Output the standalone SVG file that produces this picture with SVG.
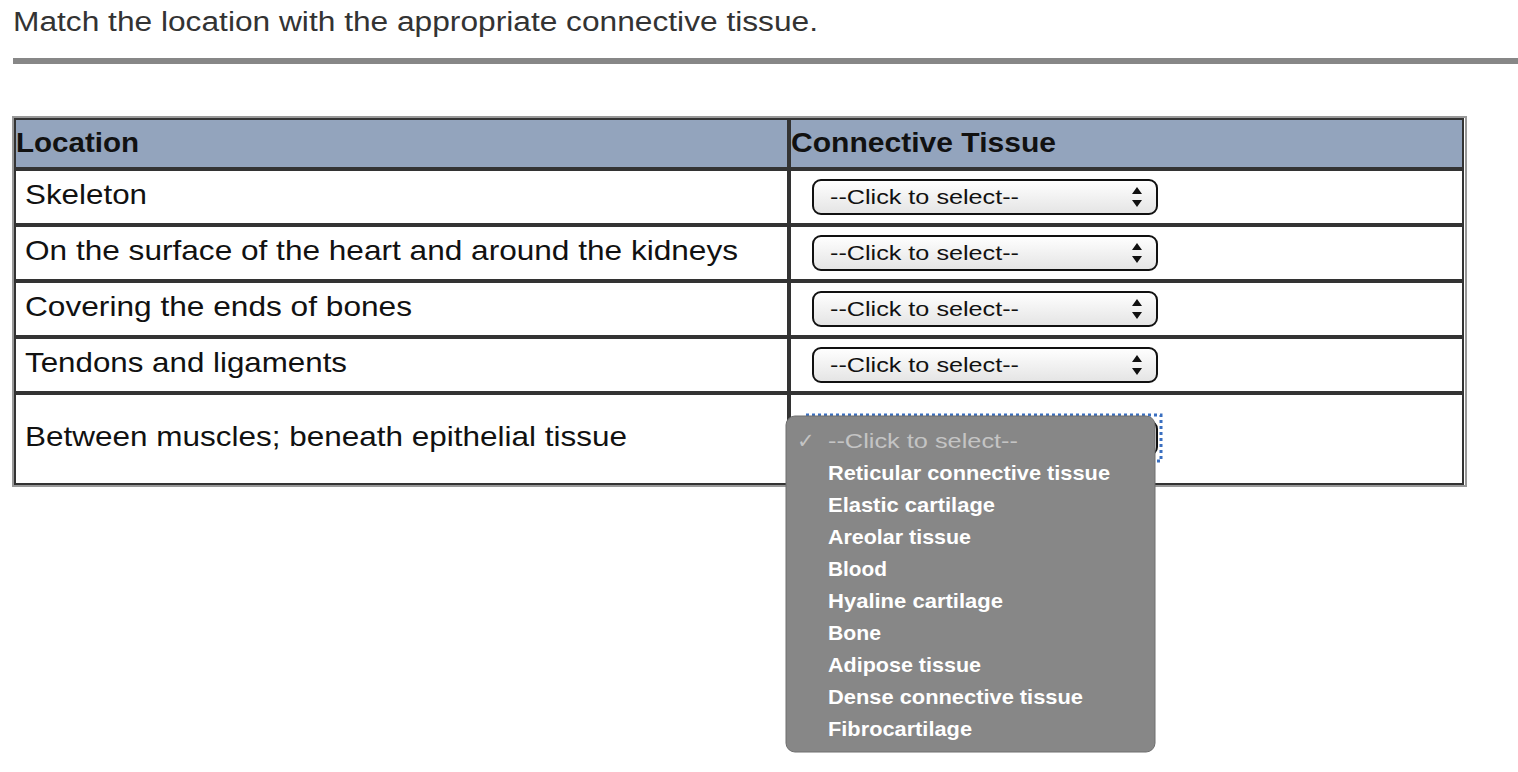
<svg xmlns="http://www.w3.org/2000/svg" width="1518" height="772" viewBox="0 0 1518 772">
<defs>
<linearGradient id="sg" x1="0" y1="0" x2="0" y2="1"><stop offset="0" stop-color="#ffffff"/><stop offset="1" stop-color="#e4e4e4"/></linearGradient>
<g id="sel"><rect x="0" y="0" width="344" height="34" rx="8" fill="url(#sg)" stroke="#111" stroke-width="2"/><text x="17" y="24" class="st" textLength="189" lengthAdjust="spacingAndGlyphs">--Click to select--</text><path d="M319 14 l5 -7 l5 7z M319 20 l5 7 l5 -7z" fill="#111"/></g>
</defs>
<style>
text{font-family:"Liberation Sans",Arial,sans-serif}
.cell{fill:#fff;stroke:#333;stroke-width:2}
.hd{fill:#93a4bd;stroke:#333;stroke-width:2}
.ht{font-size:28px;font-weight:bold;fill:#111}
.lt{font-size:28px;fill:#111}
.st{font-size:20px;fill:#111}
.op{font-size:21px;font-weight:bold;fill:#fff}
</style>
<rect width="1518" height="772" fill="#fff"/>
<text x="13" y="31" font-size="27" fill="#333" textLength="805" lengthAdjust="spacingAndGlyphs">Match the location with the appropriate connective tissue.</text>
<rect x="13" y="58" width="1505" height="6" fill="#878787"/>
<rect x="13" y="117" width="1453" height="369" fill="#fff" stroke="#999" stroke-width="2"/>
<g id="header">
<rect class="hd" x="15" y="119" width="773" height="49"/>
<rect class="hd" x="790" y="119" width="673" height="49"/>
<text class="ht" x="16" y="152" textLength="123" lengthAdjust="spacingAndGlyphs">Location</text>
<text class="ht" x="791" y="152" textLength="265" lengthAdjust="spacingAndGlyphs">Connective Tissue</text>
</g>
<g id="row1"><rect class="cell" x="15" y="170" width="773" height="54"/><rect class="cell" x="790" y="170" width="673" height="54"/><text class="lt" x="25" y="204" textLength="122" lengthAdjust="spacingAndGlyphs">Skeleton</text><use href="#sel" x="813" y="180"/></g>
<g id="row2"><rect class="cell" x="15" y="226" width="773" height="54"/><rect class="cell" x="790" y="226" width="673" height="54"/><text class="lt" x="25" y="260" textLength="713" lengthAdjust="spacingAndGlyphs">On the surface of the heart and around the kidneys</text><use href="#sel" x="813" y="236"/></g>
<g id="row3"><rect class="cell" x="15" y="282" width="773" height="54"/><rect class="cell" x="790" y="282" width="673" height="54"/><text class="lt" x="25" y="316" textLength="387" lengthAdjust="spacingAndGlyphs">Covering the ends of bones</text><use href="#sel" x="813" y="292"/></g>
<g id="row4"><rect class="cell" x="15" y="338" width="773" height="54"/><rect class="cell" x="790" y="338" width="673" height="54"/><text class="lt" x="25" y="372" textLength="322" lengthAdjust="spacingAndGlyphs">Tendons and ligaments</text><use href="#sel" x="813" y="348"/></g>
<g id="row5"><rect class="cell" x="15" y="394" width="773" height="90"/><rect class="cell" x="790" y="394" width="673" height="90"/><text class="lt" x="25" y="446" textLength="602" lengthAdjust="spacingAndGlyphs">Between muscles; beneath epithelial tissue</text>
<rect x="806" y="415" width="355" height="46" fill="none" stroke="#3a6fc0" stroke-width="3" stroke-dasharray="3 3"/>
<rect x="813" y="421" width="344" height="34" rx="8" fill="#fff" stroke="#111" stroke-width="2"/></g>
<g id="dropdown">
<rect x="786" y="416" width="369" height="336" rx="9" fill="#878787" stroke="#6e6e6e" stroke-width="1"/>
<text x="797" y="448" font-size="21" fill="#c4c4c4">✓</text>
<text x="828" y="448" font-size="21" fill="#c4c4c4" textLength="190" lengthAdjust="spacingAndGlyphs">--Click to select--</text>
<text class="op" x="828" y="480" textLength="282" lengthAdjust="spacingAndGlyphs">Reticular connective tissue</text>
<text class="op" x="828" y="512" textLength="167" lengthAdjust="spacingAndGlyphs">Elastic cartilage</text>
<text class="op" x="828" y="544" textLength="143" lengthAdjust="spacingAndGlyphs">Areolar tissue</text>
<text class="op" x="828" y="576" textLength="59" lengthAdjust="spacingAndGlyphs">Blood</text>
<text class="op" x="828" y="608" textLength="175" lengthAdjust="spacingAndGlyphs">Hyaline cartilage</text>
<text class="op" x="828" y="640" textLength="53" lengthAdjust="spacingAndGlyphs">Bone</text>
<text class="op" x="828" y="672" textLength="153" lengthAdjust="spacingAndGlyphs">Adipose tissue</text>
<text class="op" x="828" y="704" textLength="255" lengthAdjust="spacingAndGlyphs">Dense connective tissue</text>
<text class="op" x="828" y="736" textLength="144" lengthAdjust="spacingAndGlyphs">Fibrocartilage</text>
</g>
</svg>
